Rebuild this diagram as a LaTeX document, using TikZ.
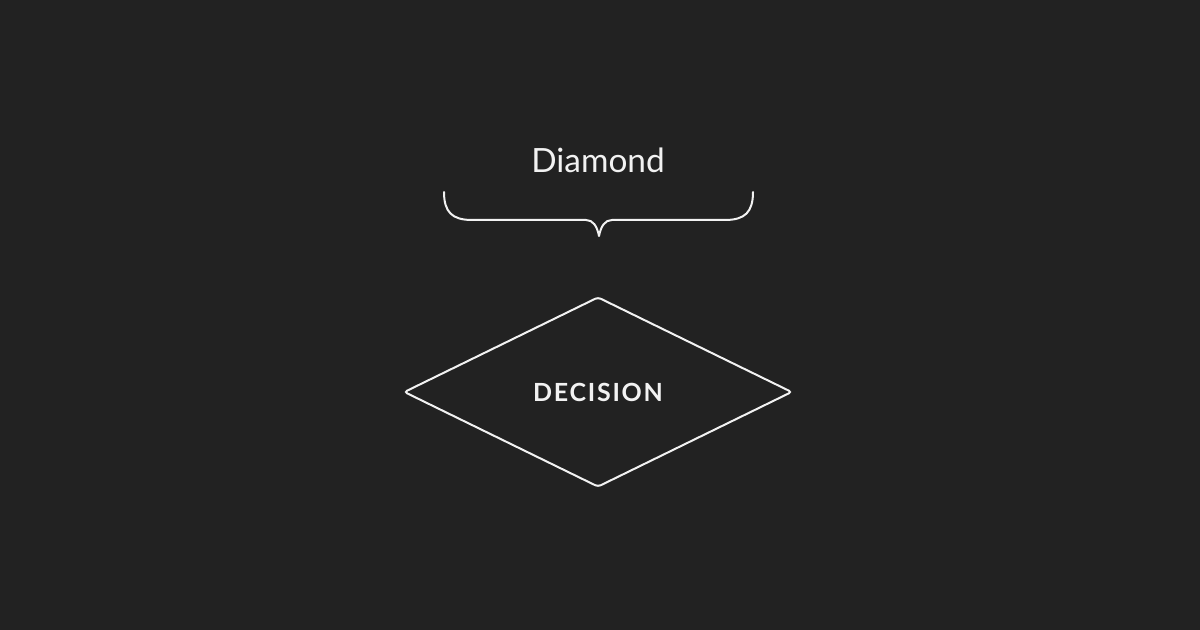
\documentclass[tikz,border=0pt]{standalone}
\usepackage{fontspec}
\setmainfont{Lato}
\newfontfamily\decisionfont[LetterSpace=7]{Lato}
\usetikzlibrary{shapes.geometric, positioning}
\definecolor{bgDark}{HTML}{222222}
\definecolor{lineLight}{HTML}{F2F2F2}
\tikzstyle{boxDecision} = [diamond, rounded corners=1.5pt, aspect=2, minimum width=194pt, minimum height=95pt, inner sep=0pt, draw=lineLight, line width=1pt, text=lineLight, font=\decisionfont\fontsize{12.5}{14}\selectfont\bfseries]
\tikzstyle{labelShape} = [text=lineLight, font=\fontsize{16.7}{20}\selectfont]
\tikzstyle{braceLine} = [draw=lineLight, line width=1pt, line cap=round, line join=round]

\begin{document}
\begin{tikzpicture}[x=0.5pt, y=-0.5pt]

\fill[bgDark] (0,0) rectangle (1200,630);
\useasboundingbox (0,0) rectangle (1200,630);

\node (title) [labelShape] at (598,160) {Diamond};

\node (decision) [boxDecision] at (598,392) {DECISION};

\draw [braceLine] (444,192) .. controls (444,212) and (452,220) .. (472,220)
  -- (586,220) .. controls (593,220) and (597,226) .. (599,236)
  .. controls (601,226) and (605,220) .. (612,220)
  -- (725,220) .. controls (745,220) and (753,212) .. (753,192);

\end{tikzpicture}
\end{document}
